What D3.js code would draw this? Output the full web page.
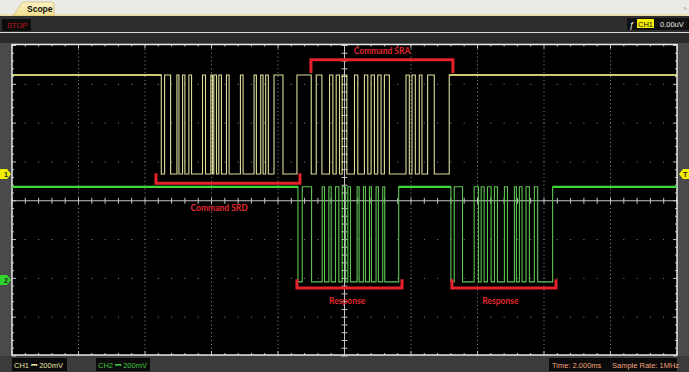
<!DOCTYPE html>
<meta charset="utf-8">
<title>Scope</title>
<style>
body { margin: 0; background: #3a3a3a; }
svg { display: block; font-family: "Liberation Sans", Arial, sans-serif; }
</style>
<body>
<script src="https://cdn.jsdelivr.net/npm/d3@7"></script>
<script>

// time base: 2 ms/div, 10 divisions, trigger at 0 ms
let timeDomain = [-10, 10];
let divDomain = [-4, 4];
let voltsPerDiv = 0.2;

// edge times (ms); each edge toggles the level
let ch1Edges = [
  -5.51, -5.41, -5.23, -5.04, -4.98, -4.87, -4.80, -4.68, -4.60, -4.27,
  -4.18, -4.02, -3.97, -3.93, -3.85, -3.78, -3.70, -3.55, -3.47, -3.13,
  -3.05, -2.72, -2.65, -2.52, -2.45, -2.37, -2.29, -2.12, -1.85, -1.43,
  -1.00, -0.85, -0.68, -0.45, -0.35, -0.25, -0.15, -0.07, 0.07, 0.30,
  0.40, 0.60, 0.70, 0.80, 0.90, 1.00, 1.10, 1.20, 1.35, 1.85,
  1.95, 2.03, 2.13, 2.25, 2.33, 2.50, 2.70, 3.15
];
let ch2Edges = [
  -1.40, -1.27, -0.99, -0.67, -0.60, -0.47, -0.40, -0.27, -0.17, -0.07,
  0.03, 0.10, 0.18, 0.38, 0.44, 0.57, 0.63, 0.75, 0.81, 0.95,
  1.02, 1.15, 1.21, 1.63,
  3.20, 3.30, 3.55, 3.90, 4.03, 4.11, 4.20, 4.30, 4.41, 4.51,
  4.60, 4.81, 4.90, 5.11, 5.17, 5.26, 5.34, 5.46, 5.56, 5.71,
  5.81, 6.26
];
// levels in volts, channel zero offset in divisions
let ch1Levels = { high: 0.51, low: 0.0, offset: 0.69 };
let ch2Levels = { high: 0.48, low: -0.01, offset: -2.04 };

// annotations: bracket from t0..t1 (ms), bar and leg end in divisions, label position
let annotations = [
  { label: "Command SRA", t0: -1.01, t1: 3.26, bar: 3.63, leg: 3.29, tx: 1.13, ty: 3.78 },
  { label: "Command SRD", t0: -5.67, t1: -1.34, bar: 0.45, leg: 0.71, tx: -3.77, ty: -0.26 },
  { label: "Response", t0: -1.43, t1: 1.73, bar: -2.25, leg: -2.02, tx: 0.08, ty: -2.66 },
  { label: "Response", t0: 3.23, t1: 6.36, bar: -2.25, leg: -2.02, tx: 4.69, ty: -2.66 }
];

let width = 689, height = 372;
let plot = { left: 12, right: 677, top: 44.5, bottom: 355 };

let x = d3.scaleLinear().domain(timeDomain).range([plot.left, plot.right]);
let y = d3.scaleLinear().domain(divDomain).range([356, 45.5]);

let svg = d3.select('body').append('svg')
    .attr('width', width)
    .attr('height', height);

// window chrome
svg.append('rect').attr('width', width).attr('height', height).attr('fill', '#3b3b3b');
svg.append('rect').attr('width', width).attr('height', 15).attr('fill', '#eceae6');
svg.append('rect').attr('y', 14).attr('width', width).attr('height', 2).attr('fill', '#eadfae');
let grad = svg.append('defs').append('linearGradient').attr('id', 'tab').attr('x2', 0).attr('y2', 1);
grad.append('stop').attr('offset', 0).attr('stop-color', '#fdf3c4');
grad.append('stop').attr('offset', 1).attr('stop-color', '#f2dc8c');
svg.append('path').attr('d', 'M13,16L22,3Q23,2,25,2L53,2L54,4L54,16Z')
    .attr('fill', 'url(#tab)').attr('stroke', '#c9b46a').attr('stroke-width', 0.7);
svg.append('text').attr('x', 27).attr('y', 12).attr('font-size', 8.5).attr('font-weight', 'bold')
    .attr('fill', '#111').text('Scope');
svg.append('text').attr('x', 684).attr('y', 10).attr('font-size', 6).attr('fill', '#777').text('▹');

svg.append('rect').attr('y', 16).attr('width', width).attr('height', 17).attr('fill', '#2e2e2e');
svg.append('rect').attr('x', 2).attr('y', 19).attr('width', 29).attr('height', 12).attr('fill', '#0c0c0c');
svg.append('text').attr('x', 7).attr('y', 28).attr('font-size', 7.5).attr('fill', '#c0141c').text('STOP');
svg.append('rect').attr('x', 627).attr('y', 18).attr('width', 62).attr('height', 12).attr('fill', '#111');
svg.append('text').attr('x', 629).attr('y', 28).attr('font-size', 9).attr('font-style', 'italic')
    .attr('fill', '#eee').text('ƒ');
svg.append('rect').attr('x', 637).attr('y', 19).attr('width', 17).attr('height', 9).attr('fill', '#f4ef00');
svg.append('text').attr('x', 638).attr('y', 27).attr('font-size', 7.5).attr('fill', '#111').text('CH1');
svg.append('text').attr('x', 660).attr('y', 27).attr('font-size', 7.5).attr('fill', '#eee').text('0.00uV');
svg.append('rect').attr('y', 32).attr('width', width).attr('height', 1).attr('fill', '#d8d8d8');
svg.append('rect').attr('y', 33).attr('width', width).attr('height', 10).attr('fill', '#2a2a2a');
svg.append('rect').attr('x', 0).attr('y', 43).attr('width', 12).attr('height', 313).attr('fill', '#4a4a4a');
svg.append('rect').attr('x', 677).attr('y', 43).attr('width', 12).attr('height', 313).attr('fill', '#4a4a4a');

// plot area
svg.append('rect')
    .attr('x', plot.left).attr('y', plot.top)
    .attr('width', plot.right - plot.left).attr('height', plot.bottom - plot.top)
    .attr('fill', '#000');

let minorX = d3.range(-10, 10.001, 0.4);
let minorY = d3.range(-4, 4.001, 0.2);
let majorX = d3.range(-8, 9, 2).filter(d => d !== 0);
let majorY = d3.range(-3, 4, 1).filter(d => d !== 0);

let grid = svg.append('g').attr('fill', '#8a8a8a');
majorX.forEach(t => {
  grid.selectAll(null).data(d3.range(-4, 4.001, 0.1)).enter().append('rect')
      .attr('x', x(t) - 0.5).attr('y', d => y(d) - 0.5).attr('width', 1).attr('height', 1);
});
majorY.forEach(v => {
  grid.selectAll(null).data(minorX).enter().append('rect')
      .attr('x', d => x(d) - 0.5).attr('y', y(v) - 0.5).attr('width', 1).attr('height', 1);
});

// border ticks
let ticks = svg.append('g').attr('stroke', '#bdbdbd').attr('stroke-width', 1);
ticks.selectAll('.tt').data(minorX).enter().append('line')
    .attr('x1', d => x(d)).attr('x2', d => x(d))
    .attr('y1', plot.top).attr('y2', (d, i) => plot.top + (i % 5 === 0 ? 4 : 2));
ticks.selectAll('.tb').data(minorX).enter().append('line')
    .attr('x1', d => x(d)).attr('x2', d => x(d))
    .attr('y1', plot.bottom).attr('y2', (d, i) => plot.bottom - (i % 5 === 0 ? 4 : 2));
ticks.selectAll('.tl').data(minorY).enter().append('line')
    .attr('y1', d => y(d)).attr('y2', d => y(d))
    .attr('x1', plot.left).attr('x2', (d, i) => plot.left + (i % 5 === 0 ? 4 : 2));
ticks.selectAll('.tr').data(minorY).enter().append('line')
    .attr('y1', d => y(d)).attr('y2', d => y(d))
    .attr('x1', plot.right).attr('x2', (d, i) => plot.right - (i % 5 === 0 ? 4 : 2));

// centre cross with ticks
let cross = svg.append('g').attr('stroke', '#c4c4c4').attr('stroke-width', 1);
cross.append('line').attr('x1', plot.left).attr('x2', plot.right).attr('y1', y(0)).attr('y2', y(0));
cross.append('line').attr('y1', plot.top).attr('y2', plot.bottom).attr('x1', x(0)).attr('x2', x(0));
cross.selectAll('.cx').data(minorX).enter().append('line')
    .attr('x1', d => x(d)).attr('x2', d => x(d))
    .attr('y1', y(0) - 3).attr('y2', y(0) + 3);
cross.selectAll('.cy').data(minorY).enter().append('line')
    .attr('y1', d => y(d)).attr('y2', d => y(d))
    .attr('x1', x(0) - 3).attr('x2', x(0) + 3);

svg.append('rect')
    .attr('x', plot.left).attr('y', plot.top)
    .attr('width', plot.right - plot.left).attr('height', plot.bottom - plot.top)
    .attr('fill', 'none').attr('stroke', '#e8e8e8').attr('stroke-width', 1.5);

// traces
function stepPoints(edges, lv) {
  let hi = lv.high / voltsPerDiv + lv.offset;
  let lo = lv.low / voltsPerDiv + lv.offset;
  let level = hi;
  let pts = [[timeDomain[0], level]];
  edges.forEach(t => {
    pts.push([t, level]);
    level = level === hi ? lo : hi;
    pts.push([t, level]);
  });
  pts.push([timeDomain[1], level]);
  return { pts, hi };
}

let line = d3.line().x(d => x(d[0])).y(d => y(d[1]));

function drawTrace(edges, lv, color, idleColor, idleWidth) {
  let { pts, hi } = stepPoints(edges, lv);
  let g = svg.append('g').attr('fill', 'none');
  g.append('path').attr('d', line(pts)).attr('stroke', color).attr('stroke-width', 1.1);
  // long idle stretches drawn brighter
  for (let i = 0; i < pts.length - 1; i++) {
    let a = pts[i], b = pts[i + 1];
    if (a[1] === hi && b[1] === hi && b[0] - a[0] > 1) {
      g.append('path').attr('d', line([a, b])).attr('stroke', idleColor).attr('stroke-width', idleWidth);
    }
  }
}

drawTrace(ch1Edges, ch1Levels, '#dedc9a', '#ecea80', 1.4);
drawTrace(ch2Edges, ch2Levels, '#5fc452', '#3ed83a', 2.2);

// red annotations
let ann = svg.append('g');
annotations.forEach(a => {
  ann.append('path')
      .attr('d', `M${x(a.t0)},${y(a.leg)}L${x(a.t0)},${y(a.bar)}L${x(a.t1)},${y(a.bar)}L${x(a.t1)},${y(a.leg)}`)
      .attr('fill', 'none').attr('stroke', '#e5222b').attr('stroke-width', 3);
  ann.append('text')
      .attr('x', x(a.tx)).attr('y', y(a.ty))
      .attr('text-anchor', 'middle')
      .attr('font-family', 'Lato, sans-serif').attr('font-weight', 'bold').attr('font-size', 8.5)
      .attr('fill', '#e3282f')
      .text(a.label);
});

// channel markers
function marker(yv, fill, label, right) {
  let yy = y(yv);
  let d = right
    ? `M689,${yy - 5}L683,${yy - 5}L679,${yy}L683,${yy + 5}L689,${yy + 5}Z`
    : `M0,${yy - 5}L7,${yy - 5}L11,${yy}L7,${yy + 5}L0,${yy + 5}Z`;
  svg.append('path').attr('d', d).attr('fill', fill);
  svg.append('text').attr('x', right ? 683 : 4).attr('y', yy + 3)
      .attr('font-size', 7).attr('font-weight', 'bold').attr('fill', '#222').text(label);
}
marker(ch1Levels.offset, '#f2ee00', '1', false);
marker(ch2Levels.offset, '#2fd42f', '2', false);
marker(ch1Levels.offset, '#f2ee00', 'T', true);

// status bar
svg.append('rect').attr('x', 12).attr('y', 358).attr('width', 55).attr('height', 13).attr('fill', '#0a0a0a');
svg.append('text').attr('x', 14).attr('y', 368).attr('font-size', 7.5).attr('fill', '#e6e3a2').text('CH1 ⎓  200mV');
svg.append('rect').attr('x', 96).attr('y', 358).attr('width', 54).attr('height', 13).attr('fill', '#0a0a0a');
svg.append('text').attr('x', 98).attr('y', 368).attr('font-size', 7.5).attr('fill', '#44c840').text('CH2 ⎓  200mV');
svg.append('rect').attr('x', 549).attr('y', 358).attr('width', 128).attr('height', 13).attr('fill', '#0a0a0a');
svg.append('text').attr('x', 552).attr('y', 368).attr('font-size', 7.5).attr('fill', '#f0a37e').text('Time: 2.000ms');
svg.append('text').attr('x', 612).attr('y', 368).attr('font-size', 7.5).attr('fill', '#f0a37e').text('Sample Rate: 1MHz');

</script>
</body>
